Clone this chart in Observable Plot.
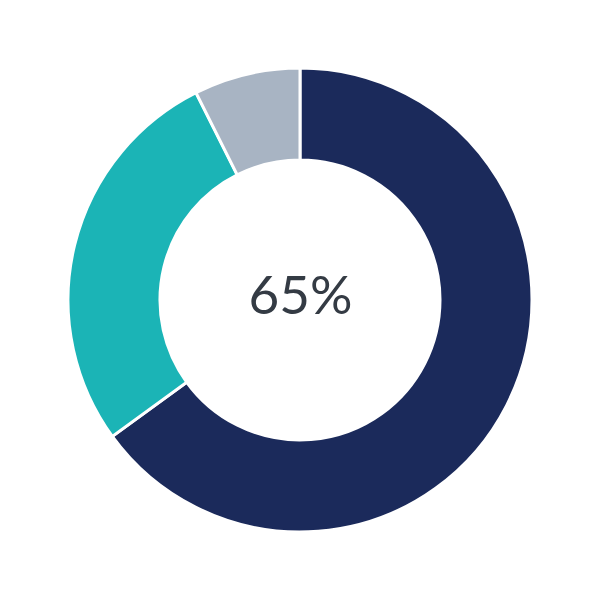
<!DOCTYPE html>
<html>
<head>
<meta charset="utf-8">
<script src="https://cdn.jsdelivr.net/npm/d3@7"></script>
<script src="https://cdn.jsdelivr.net/npm/@observablehq/plot@0.6"></script>
<style>
  html, body { margin: 0; padding: 0; background: #fff; }
  #chart { width: 600px; height: 600px; }
</style>
</head>
<body>
<div id="chart"></div>
<script>
const categories = ["Segment A", "Segment B", "Segment C"];
const values = [65, 27.6, 7.4];
const colors = ["#1b2a5b", "#1bb4b6", "#a8b4c3"];
const centerLabel = "65%";

const data = categories.map((c, i) => ({category: c, value: values[i]}));
const pie = d3.pie().value(d => d.value).sort(null)(data);

function donut(index, scales, values, dimensions) {
  const cx = scales.x(0), cy = scales.y(0);
  const outer = Math.abs(scales.x(1) - scales.x(0));
  const inner = outer * (140 / 232);
  const arc = d3.arc().innerRadius(inner).outerRadius(outer);
  const g = d3.create("svg:g").attr("transform", `translate(${cx},${cy})`);
  g.selectAll("path").data(pie).join("path")
    .attr("d", arc)
    .attr("fill", (d, i) => colors[i])
    .attr("stroke", "#fff")
    .attr("stroke-width", 3)
    .attr("stroke-linejoin", "miter");
  return g.node();
}

const plot = Plot.plot({
  width: 600,
  height: 600,
  margin: 0,
  x: {domain: [-300 / 232, 300 / 232], axis: null},
  y: {domain: [-300 / 232, 300 / 232], axis: null},
  marks: [
    donut,
    Plot.text([centerLabel], {
      x: 0, y: 0, text: d => d,
      fontSize: 53, fontFamily: "Lato", fontWeight: 400,
      fill: "#343b44", dy: -3
    })
  ]
});
document.getElementById("chart").appendChild(plot);
</script>
</body>
</html>
